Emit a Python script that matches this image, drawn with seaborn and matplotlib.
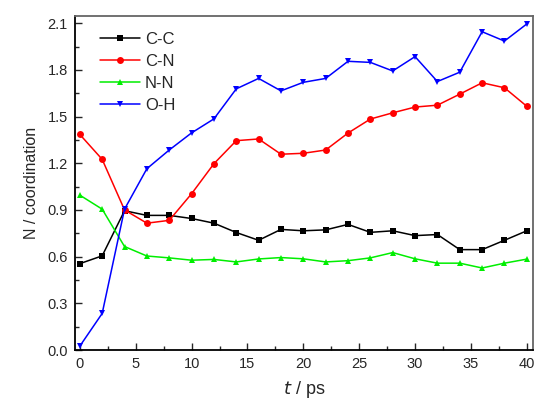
import numpy as np
import pandas as pd
import matplotlib
matplotlib.use("Agg")
import matplotlib.pyplot as plt
from matplotlib.ticker import MultipleLocator
import seaborn as sns

t = [0, 2, 4, 6, 8, 10, 12, 14, 16, 18, 20, 22, 24, 26, 28, 30, 32, 34, 36, 38, 40]
cc = [0.555, 0.605, 0.895, 0.865, 0.865, 0.845, 0.815, 0.755, 0.705, 0.775, 0.766, 0.772, 0.807, 0.756, 0.766, 0.735, 0.742, 0.645, 0.645, 0.705, 0.766]
cn = [1.385, 1.225, 0.900, 0.815, 0.833, 1.004, 1.197, 1.345, 1.356, 1.258, 1.264, 1.285, 1.394, 1.484, 1.524, 1.561, 1.573, 1.644, 1.717, 1.685, 1.566]
nn = [0.995, 0.905, 0.665, 0.604, 0.592, 0.577, 0.582, 0.566, 0.585, 0.594, 0.586, 0.566, 0.574, 0.592, 0.626, 0.586, 0.558, 0.558, 0.527, 0.558, 0.584]
oh = [0.025, 0.235, 0.905, 1.165, 1.285, 1.395, 1.485, 1.678, 1.745, 1.665, 1.720, 1.745, 1.855, 1.848, 1.793, 1.885, 1.725, 1.785, 2.045, 1.985, 2.095]
series = ["C-C", "C-N", "N-N", "O-H"]
colors = {"C-C": "#000000", "C-N": "#ff0000", "N-N": "#00ee00", "O-H": "#0000ff"}
markers = {"C-C": "s", "C-N": "o", "N-N": "^", "O-H": "v"}

df = pd.concat([
    pd.DataFrame({"t": t, "N": vals, "pair": name})
    for name, vals in zip(series, [cc, cn, nn, oh])
], ignore_index=True)

sns.set_style("white")
plt.rcParams["font.family"] = ["Liberation Sans", "DejaVu Sans"]

fig = plt.figure(figsize=(5.5, 4.13), dpi=100)
ax = fig.add_axes([0.136, 0.1525, 0.833, 0.8095])

sns.lineplot(data=df, x="t", y="N", hue="pair", style="pair", hue_order=series,
             style_order=series, palette=colors, markers=markers, dashes=False,
             markersize=5, linewidth=1.1, markeredgewidth=0, ax=ax)

ax.set_xlim(-0.45, 40.55)
ax.set_ylim(0, 2.148)
ax.xaxis.set_major_locator(MultipleLocator(5))
ax.xaxis.set_minor_locator(MultipleLocator(2.5))
ax.yaxis.set_major_locator(MultipleLocator(0.3))
ax.yaxis.set_minor_locator(MultipleLocator(0.15))
ax.yaxis.set_major_formatter(matplotlib.ticker.FormatStrFormatter("%.1f"))
ax.tick_params(which="major", direction="in", length=5, width=1, labelsize=10.5,
               bottom=True, left=True, top=False, right=False, pad=5)
ax.tick_params(which="minor", direction="in", length=3, width=1,
               bottom=True, left=True, top=False, right=False)

for side in ["left", "bottom"]:
    ax.spines[side].set_color("black")
    ax.spines[side].set_linewidth(1.3)
for side in ["top", "right"]:
    ax.spines[side].set_color("#666666")
    ax.spines[side].set_linewidth(1.3)

ax.set_xlabel("$t$ / ps", fontsize=13, labelpad=6)
ax.set_ylabel("N / coordination", fontsize=11.5, labelpad=6)

leg = ax.legend(loc="upper left", bbox_to_anchor=(0.04, 0.972), frameon=False,
                fontsize=12, handlelength=2.4, borderaxespad=0, labelspacing=0.42,
                handletextpad=0.3)

fig.savefig("out.png", dpi=100)
